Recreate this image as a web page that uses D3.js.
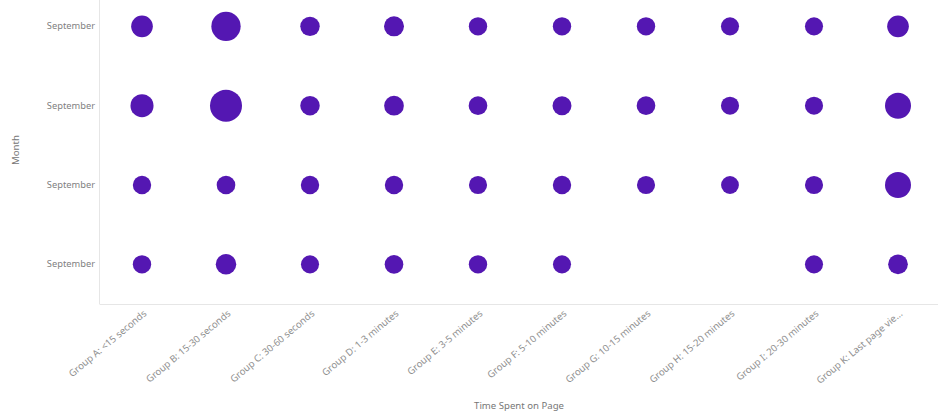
<!DOCTYPE html>
<html>
<head>
<meta charset="utf-8">
<script src="https://d3js.org/d3.v7.min.js"></script>
<style>
  body { margin: 0; background: #fff; }
  text { font-family: "Noto Sans", "Open Sans", sans-serif; }
</style>
</head>
<body>
<div class="vis-holder"></div>
<script>
// categories along the x axis
var groups = ["Group A: <15 seconds", "Group B: 15-30 seconds", "Group C: 30-60 seconds",
              "Group D: 1-3 minutes", "Group E: 3-5 minutes", "Group F: 5-10 minutes",
              "Group G: 10-15 minutes", "Group H: 15-20 minutes", "Group I: 20-30 minutes",
              "Group K: Last page vie..."];
// row labels, top to bottom
var months = ["September", "September", "September", "September"];
// bubble sizes per row (null = no bubble)
var row1 = [46, 84, 37, 39, 33, 33, 33, 32, 32, 46];
var row2 = [52, 100, 37, 38, 34, 35, 34, 32, 32, 66];
var row3 = [33, 34, 33, 33, 32, 33, 32, 31, 32, 66];
var row4 = [33, 41, 32, 34, 33, 32, null, null, 32, 38];
var rows = [row1, row2, row3, row4];

var width = 950;
var height = 413;
var margin = { top: -13.3, bottom: 109, left: 100, right: 10 };

var svg = d3.select(".vis-holder")
            .append("svg")
            .attr("width", width)
            .attr("height", height);

var xScale = d3.scaleBand()
               .domain(groups)
               .range([margin.left, width - margin.right]);

var yScale = d3.scaleBand()
               .domain(d3.range(months.length))
               .range([margin.top, height - margin.bottom]);

var rScale = d3.scaleSqrt()
               .domain([0, d3.max(rows, function(r) { return d3.max(r); })])
               .range([0, 16]);

// flatten into points
var points = [];
rows.forEach(function(r, i) {
  r.forEach(function(v, j) {
    if (v != null) points.push({ row: i, group: groups[j], value: v });
  });
});

var plotBottom = height - margin.bottom;

// axis lines
svg.append("line")
   .attr("x1", margin.left - 0.5).attr("x2", margin.left - 0.5)
   .attr("y1", 0).attr("y2", plotBottom)
   .attr("stroke", "#e6e6e6");
svg.append("line")
   .attr("x1", margin.left - 0.5).attr("x2", 938)
   .attr("y1", plotBottom + 0.5).attr("y2", plotBottom + 0.5)
   .attr("stroke", "#e6e6e6");

// bubbles
svg.append("g")
   .selectAll("circle")
   .data(points)
   .enter()
   .append("circle")
   .attr("cx", function(d) { return xScale(d.group) + xScale.bandwidth() / 2; })
   .attr("cy", function(d) { return yScale(d.row) + yScale.bandwidth() / 2; })
   .attr("r", function(d) { return rScale(d.value); })
   .attr("fill", "#5417b2");

// y axis labels
var yAxis = svg.append("g")
               .attr("transform", `translate(${margin.left - 5}, 0)`)
               .call(d3.axisLeft(yScale).tickSize(0).tickPadding(0)
                       .tickFormat(function(d) { return months[d]; }));
yAxis.select(".domain").remove();
yAxis.selectAll("text")
     .attr("fill", "#7f7f7f")
     .style("font-size", "9.3px");

// x axis labels
var xAxis = svg.append("g")
               .attr("transform", `translate(0, ${plotBottom})`)
               .call(d3.axisBottom(xScale).tickSize(0).tickPadding(0));
xAxis.select(".domain").remove();
xAxis.selectAll("text")
     .attr("text-anchor", "end")
     .attr("fill", "#909090")
     .style("font-size", "9.6px")
     .attr("transform", "translate(3, 8) rotate(-40)")
     .attr("dy", "0.35em")
     .attr("y", 0);

// axis titles
svg.append("text")
   .attr("text-anchor", "middle")
   .attr("transform", "translate(519, 409)")
   .attr("fill", "#777")
   .style("font-size", "9.6px")
   .text("Time Spent on Page");

svg.append("text")
   .attr("text-anchor", "middle")
   .attr("transform", "translate(19, 150) rotate(-90)")
   .attr("fill", "#777")
   .style("font-size", "9.6px")
   .text("Month");
</script>
</body>
</html>
